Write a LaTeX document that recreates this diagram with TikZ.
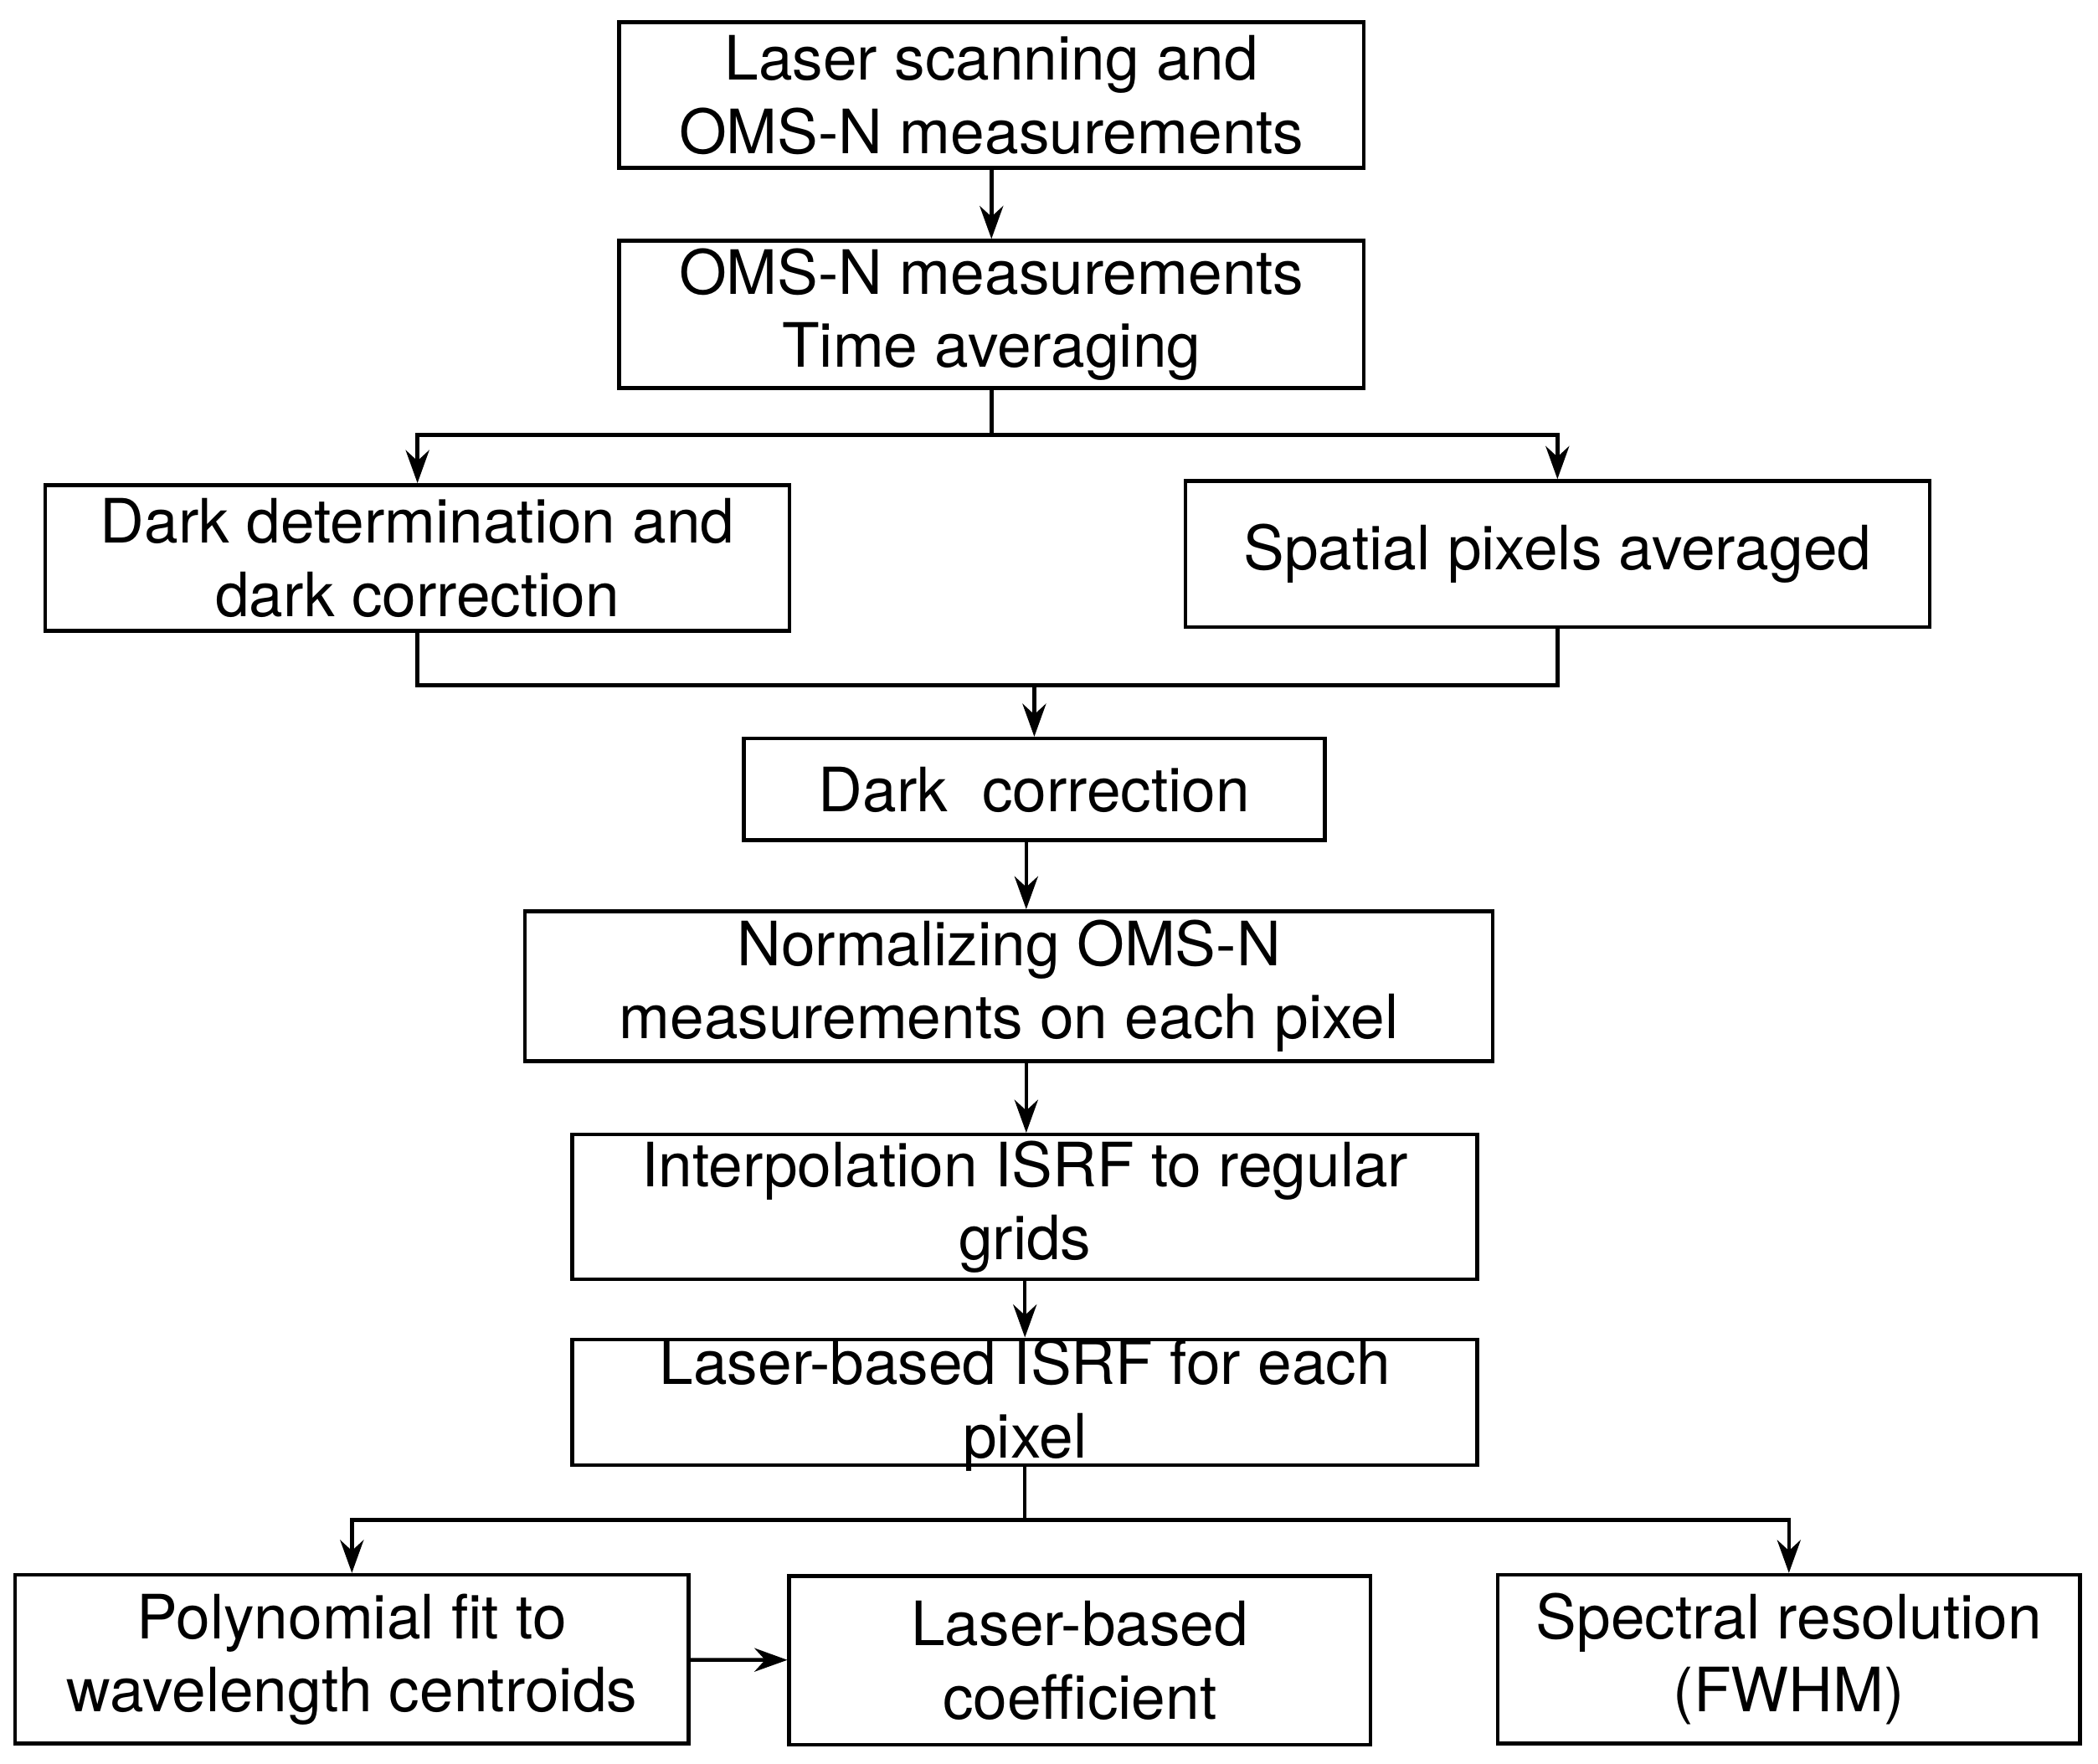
\documentclass[tikz,border=0pt]{standalone}
\usepackage{fontspec}
\setmainfont{TeX Gyre Heros}
\usetikzlibrary{arrows.meta}

\begin{document}
\begin{tikzpicture}[
    x=0.01cm, y=-0.01cm,
    box/.style={rectangle, draw, thick, align=center, inner sep=0pt, font=\fontsize{13}{15.5}\selectfont},
    arrow/.style={-{Stealth[length=7pt,width=5pt]}, thick}
]
\useasboundingbox (0,0) rectangle (1568,1318);

% Acquisition
\node[box, minimum width=5.56cm, minimum height=1.09cm] (scan) at (741,71) {Laser scanning and\\OMS-N measurements};
\node[box, minimum width=5.56cm, minimum height=1.10cm] (avg) at (741,235) {OMS-N measurements\\Time averaging};

% Dark handling
\node[box, minimum width=5.56cm, minimum height=1.09cm] (darkdet) at (312,417) {Dark determination and\\dark correction};
\node[box, minimum width=5.56cm, minimum height=1.09cm] (spatial) at (1164,414) {Spatial pixels averaged};
\node[box, minimum width=4.34cm, minimum height=0.76cm] (dark) at (773,590) {Dark~ correction};

% ISRF
\node[box, minimum width=7.23cm, minimum height=1.12cm] (norm) at (754,737) {Normalizing OMS-N\\measurements on each pixel};
\node[box, minimum width=6.76cm, minimum height=1.08cm] (interp) at (766,902) {Interpolation ISRF to regular\\grids};
\node[box, minimum width=6.76cm, minimum height=0.94cm] (isrf) at (766,1048) {};
\node[align=center, font=\fontsize{13}{15.5}\selectfont] (isrftxt) at (766,1050) {Laser-based ISRF for each\\pixel};

% Outputs
\node[box, minimum width=5.03cm, minimum height=1.26cm] (poly) at (263,1240) {Polynomial fit to\\wavelength centroids};
\node[box, minimum width=4.34cm, minimum height=1.26cm] (coef) at (807,1241) {Laser-based\\coefficient};
\node[box, minimum width=4.35cm, minimum height=1.26cm] (fwhm) at (1337,1240) {Spectral resolution\\(FWHM)};

% Arrows
\draw[arrow] (scan) -- (avg);
\draw[thick] (avg.south) -- (741,325) coordinate (split1);
\draw[arrow] (split1) -| (darkdet.north);
\draw[arrow] (split1) -| (spatial.north);
\draw[thick] (darkdet.south) |- (773,512) coordinate (join1);
\draw[thick] (spatial.south) |- (join1);
\draw[arrow] (join1) -- (dark.north);
\draw[arrow] (dark.south -| 767,0) -- (norm.north -| 767,0);
\draw[arrow] (norm.south -| 767,0) -- (interp.north -| 767,0);
\draw[arrow] (interp) -- (isrf);
\draw[thick] (isrf.south) -- (766,1136) coordinate (split2);
\draw[arrow] (split2) -| (poly.north);
\draw[arrow] (split2) -| (fwhm.north);
\draw[arrow] (poly) -- (coef);
\end{tikzpicture}
\end{document}
